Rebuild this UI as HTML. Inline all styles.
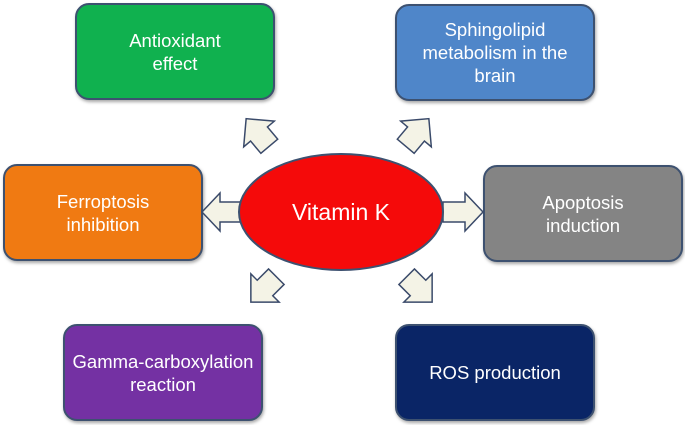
<!DOCTYPE html>
<html><head><meta charset="utf-8"><style>
body{margin:0;width:685px;height:425px;background:#fff;position:relative;overflow:hidden;font-family:"Liberation Sans",sans-serif}
.b{position:absolute;width:196px;height:93px;border:2px solid #3d5170;border-radius:14px;color:#fff;font-size:18.5px;line-height:23px;display:flex;align-items:center;justify-content:center;text-align:center;box-shadow:1px 2px 3px rgba(0,0,0,.35)}
svg{position:absolute;left:0;top:0}
</style></head><body>
<div class="b" style="left:75px;top:3px;background:#10b14f">Antioxidant<br>effect</div>
<div class="b" style="left:395px;top:4px;background:#4f86c9">Sphingolipid<br>metabolism in the<br>brain</div>
<div class="b" style="left:3px;top:164px;background:#f07a12">Ferroptosis<br>inhibition</div>
<div class="b" style="left:483px;top:165px;background:#848484">Apoptosis<br>induction</div>
<div class="b" style="left:63px;top:324px;background:#7431a3">Gamma-carboxylation<br>reaction</div>
<div class="b" style="left:395px;top:324px;background:#0a2566">ROS production</div>
<svg width="685" height="425">
<defs>
<polygon id="ar" points="-20,-10 2,-10 2,-19 20,0 2,19 2,10 -20,10" fill="#f4f3e6" stroke="#3a4a6a" stroke-width="1.5"/>
<polygon id="ad" points="-16,-11 0,-11 0,-20 20,0 0,20 0,11 -16,11" fill="#f4f3e6" stroke="#3a4a6a" stroke-width="1.5"/>
</defs>
<use href="#ar" transform="translate(222,212) rotate(180)"/>
<use href="#ar" transform="translate(463,212)"/>
<use href="#ad" transform="translate(259,134) rotate(-130)"/>
<use href="#ad" transform="translate(416,134) rotate(-50)"/>
<use href="#ad" transform="translate(265,288) rotate(135)"/>
<use href="#ad" transform="translate(418,288) rotate(45)"/>
<ellipse cx="341" cy="212" rx="102" ry="58" fill="#f50a0a" stroke="#3d5170" stroke-width="2"/>
<text x="341" y="220" text-anchor="middle" fill="#fff" font-size="23" font-family="Liberation Sans,sans-serif">Vitamin K</text>
</svg>
</body></html>
